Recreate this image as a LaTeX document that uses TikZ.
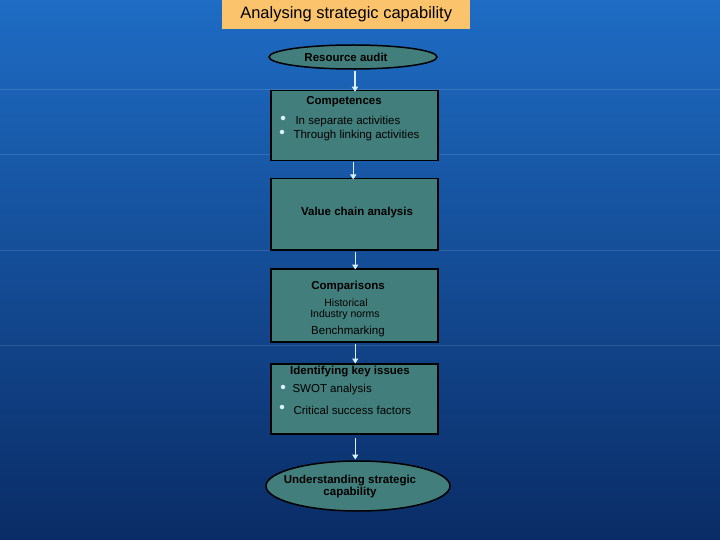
\documentclass[tikz,border=0pt]{standalone}
\usepackage{fontspec}
\setmainfont{Liberation Sans}
\usetikzlibrary{shapes.geometric,arrows.meta}
\definecolor{bgtop}{HTML}{1E6CC4}
\definecolor{bgbot}{HTML}{0A2C66}
\definecolor{teal}{HTML}{427E7C}
\definecolor{titlebg}{HTML}{FBC46C}
\definecolor{arr}{HTML}{D8F0FF}
\tikzset{
  box/.style={draw=black,line width=1.5pt,fill=teal,minimum width=167pt,anchor=north west},
  oval/.style={ellipse,draw=black,line width=1.5pt,fill=teal,inner sep=0pt},
  txt/.style={font=\fontsize{11.5}{12}\selectfont,text=black},
  stxt/.style={font=\fontsize{10.5}{11}\selectfont,text=black,inner sep=0pt},
  btxt/.style={font=\fontsize{11.5}{12}\selectfont\bfseries,text=black},
  flow/.style={arr,line width=1.5pt,-{Triangle[length=5pt,width=6pt]}},
  dot/.style={circle,fill=arr,inner sep=0pt,minimum size=4.5pt}
}
\begin{document}
\begin{tikzpicture}[x=1pt,y=-1pt]
\useasboundingbox (0,0) rectangle (720,540);
\shade[top color=bgtop,bottom color=bgbot] (0,0) rectangle (720,540);
\foreach \yy in {90,155,250,345}{\draw[white,opacity=0.12,line width=1pt] (0,\yy) -- (720,\yy);}
\node[fill=titlebg,minimum width=248pt,minimum height=29pt,anchor=north west,inner sep=0pt,font=\fontsize{16.5}{18}\selectfont] (title) at (222,0) {Analysing strategic capability};
\node[oval,minimum width=168pt,minimum height=24pt] (ra) at (353,57) {};
\node[btxt] at (346,57) {Resource audit};
\node[box,minimum height=70pt] (b1) at (270,90) {};
\node[btxt] at (344,102) {Competences};
\node[txt,anchor=west] at (292,122) {In separate activities};
\node[txt,anchor=west] at (290,136) {Through linking activities};
\node[dot] at (283,118) {}; \node[dot] at (282,132) {};
\node[box,minimum height=71pt] (b2) at (270,178) {};
\node[btxt] at (357,213) {Value chain analysis};
\node[box,minimum height=73pt] (b3) at (270,268) {};
\node[btxt] at (348,287) {Comparisons};
\node[stxt] at (346,303) {Historical};
\node[stxt] at (345,315) {Industry norms};
\node[txt] at (348,332) {Benchmarking};
\node[box,minimum height=70pt] (b4) at (270,363) {};
\node[btxt] at (350,372) {Identifying key issues};
\node[txt,anchor=west] at (289,390) {SWOT analysis};
\node[txt,anchor=west] at (290,410) {Critical success factors};
\node[dot] at (283,387) {}; \node[dot] at (282,407) {};
\node[oval,minimum width=184pt,minimum height=50pt] (us) at (358,486) {};
\node[btxt,align=center] at (350,487) {Understanding strategic\\capability};
\draw[flow] (ra.south) ++(2,1) -- ++(0,21);
\draw[flow] (b1.south) ++(-1,1) -- ++(0,17);
\draw[flow] (b2.south) ++(1,1) -- ++(0,18);
\draw[flow] (b3.south) ++(1,1) -- ++(0,20);
\draw[flow] (b4.south) ++(1,3) -- ++(0,22);
\end{tikzpicture}
\end{document}
